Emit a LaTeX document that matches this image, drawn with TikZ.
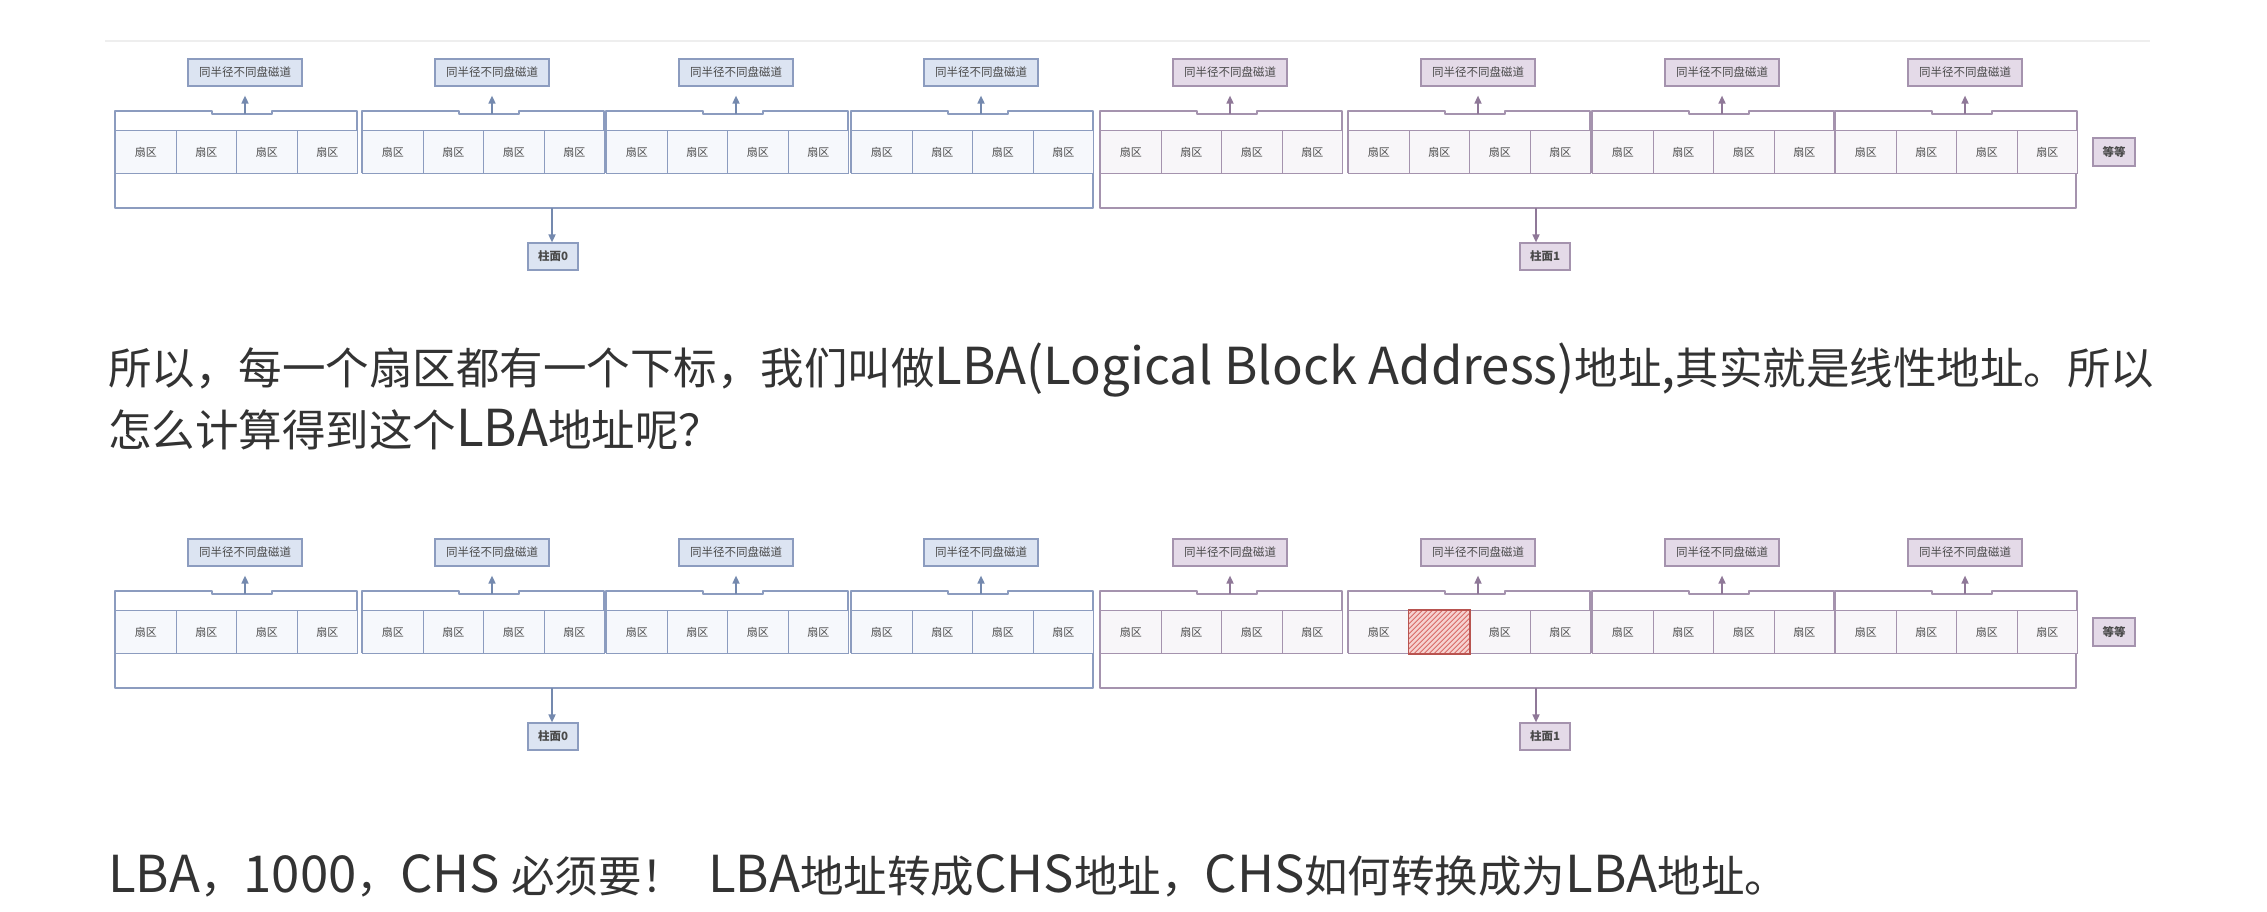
\documentclass[tikz,border=0pt]{standalone}
\usepackage{fontspec}
\setmainfont{Noto Sans CJK SC}
\newfontfamily\lat{Noto Sans CJK SC}[Scale=1.17]
\usetikzlibrary{arrows.meta,calc}
\definecolor{bline}{HTML}{8C9CBF}
\definecolor{pline}{HTML}{A593AE}
\definecolor{barrow}{HTML}{7489AE}
\definecolor{parrow}{HTML}{8F7898}
\definecolor{bfill}{HTML}{DCE4F2}
\definecolor{pfill}{HTML}{E4DAE8}
\definecolor{bsect}{HTML}{F6F8FC}
\definecolor{psect}{HTML}{F8F6F9}
\definecolor{txt}{HTML}{333333}
\definecolor{small}{HTML}{4A4A4A}
\definecolor{hlline}{HTML}{B85450}
\definecolor{hlfill}{HTML}{F6D2D0}
\definecolor{hlhatch}{HTML}{D86A66}
\definecolor{rule}{HTML}{EEEEEE}
\tikzset{
  gline/.style={draw=#1line, line width=1.2pt, line join=round},
  sector/.style={draw=#1line, fill=#1sect, line width=1.2pt, minimum width=60.5pt, minimum height=43pt,
    inner sep=0pt, anchor=north west, font=\fontsize{11pt}{11pt}\selectfont, text=small},
  lab/.style={draw=#1line, fill=#1fill, line width=1.2pt, minimum width=114pt, minimum height=27pt,
    inner sep=0pt, font=\fontsize{11.5pt}{11.5pt}\selectfont, text=small},
  cyl/.style={draw=#1line, fill=#1fill, line width=1.2pt, minimum width=50pt, minimum height=27pt,
    inner sep=0pt, font=\bfseries\fontsize{11.5pt}{11.5pt}\selectfont, text=small},
  arr/.style={draw=#1arrow, line width=1.6pt, -{Triangle[length=8pt,width=7pt]}},
  para/.style={anchor=base west, inner sep=0pt, text=txt, font=\fontsize{43.5pt}{43.5pt}\selectfont},
}
\newcommand\drawdiagram[2]{%
  % groups
  \foreach \i/\L/\col in {1/115/b,2/362/b,3/606/b,4/851/b,5/1100/p,6/1348/p,7/1592/p,8/1835/p} {
    \draw[gline=\col] (\L,173+#1) -- (\L,111+#1) -- (\L+97,111+#1) -- (\L+97,114+#1)
      -- (\L+157,114+#1) -- (\L+157,111+#1) -- (\L+242,111+#1) -- (\L+242,173+#1);
    \foreach \k in {0,1,2,3} {
      \node[sector=\col] (#2s\i\k) at (\L+\k*60.5,130+#1) {扇区};
    }
    \node[lab=\col] (#2l\i) at (\L+130,72.5+#1) {同半径不同盘磁道};
    \coordinate (#2n\i) at (\L+130,114+#1);
    \draw[arr=\col, shorten >=9pt] (#2n\i) -- (#2l\i.south);
  }
  % cylinders
  \draw[gline=b] (115,173+#1) -- (115,208+#1) -- (1093,208+#1) -- (1093,173+#1);
  \draw[gline=p] (1100,173+#1) -- (1100,208+#1) -- (2076,208+#1) -- (2076,173+#1);
  \node[cyl=b] (#2c0) at (553,256.5+#1) {柱面0};
  \node[cyl=p] (#2c1) at (1545,256.5+#1) {柱面1};
  \coordinate (#2o0) at (552,208+#1);
  \coordinate (#2o1) at (1536,208+#1);
  \draw[arr=b] (#2o0) -- (#2o0 |- #2c0.north);
  \draw[arr=p] (#2o1) -- (#2o1 |- #2c1.north);
  \node[cyl=p, minimum width=42pt, minimum height=28pt] (#2etc) at (2114,152+#1) {等等};
}
\begin{document}
\begin{tikzpicture}[x=1pt,y=-1pt]
  \useasboundingbox[fill=white] (0,0) rectangle (2267,911);
  \draw[rule, line width=2pt] (105,41) -- (2150,41);
  \drawdiagram{0}{a}
  \drawdiagram{480}{d}
  % highlighted sector
  \fill[hlfill] (ds61.north west) rectangle (ds61.south east);
  \begin{scope}
    \clip (ds61.north west) rectangle (ds61.south east);
    \foreach \t in {0,5,...,120} {
      \draw[hlhatch, line width=1pt] ($(ds61.south west)+(\t-45,0)$) -- ++(45,-45);
    }
  \end{scope}
  \draw[hlline, line width=1.6pt] (ds61.north west) rectangle (ds61.south east);
  \node[para] (t1) at (108,384) {所以，每一个扇区都有一个下标，我们叫做{\lat LBA(Logical Block Address)}地址{\lat ,}其实就是线性地址。所以};
  \node[para] (t2) at (108,446) {怎么计算得到这个{\lat LBA}地址呢？};
  \node[para] (t3) at (108,892) {{\lat LBA}，{\lat 1000}，{\lat CHS }必须要！{\lat\ \ }{\lat LBA}地址转成{\lat CHS}地址，{\lat CHS}如何转换成为{\lat LBA}地址。};
\end{tikzpicture}
\end{document}
